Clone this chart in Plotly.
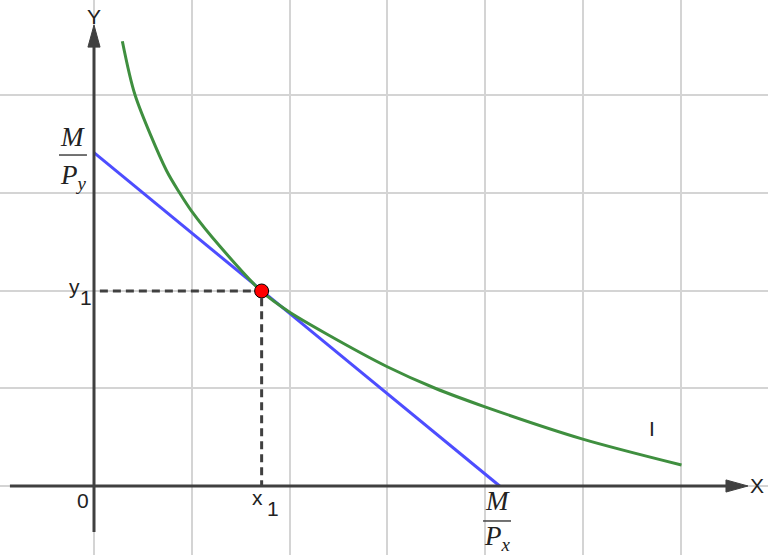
"""
Consumer equilibrium: budget line tangent to an indifference curve.
"""
import plotly.graph_objects as go

# indifference curve I
curve_x = [0.29, 0.42, 0.74, 0.875, 1.0, 1.29, 1.715, 1.99, 2.38, 3.0, 3.49, 4.0, 5.0, 6.01]
curve_y = [4.55, 4.0, 3.23, 3.0, 2.81, 2.45, 1.99, 1.785, 1.555, 1.22, 1.0, 0.81, 0.48, 0.215]

# budget line intercepts
budget_x = [0.0, 4.15]
budget_y = [3.41, 0.0]

# equilibrium point
x1 = 1.715
y1 = 1.995

# axis window (one grid cell = 1 unit)
x_range = [-0.9616, 6.895]
y_range = [-0.706, 4.972]

axis_color = '#404040'
label_font = dict(family='Liberation Sans', size=21, color='#222222')
math_font = dict(family='Liberation Serif', size=27, color='#222222')

fig = go.Figure()

# budget line
fig.add_trace(go.Scatter(
    x=budget_x, y=budget_y, mode='lines',
    line=dict(color='#4d4dff', width=3),
    hoverinfo='skip'
))

# indifference curve
fig.add_trace(go.Scatter(
    x=curve_x, y=curve_y, mode='lines',
    line=dict(color='#3f8f3f', width=3, shape='spline', smoothing=0.8),
    hoverinfo='skip'
))

# dashed guides to the axes
fig.add_trace(go.Scatter(
    x=[0.06, x1, x1], y=[y1, y1, 0],
    mode='lines',
    line=dict(color=axis_color, width=3, dash='8px,5px'),
    hoverinfo='skip'
))

# tangency point
fig.add_trace(go.Scatter(
    x=[x1], y=[y1], mode='markers',
    marker=dict(color='#ff0000', size=14, line=dict(color='#000000', width=1)),
    hoverinfo='skip'
))

shapes = [
    # x axis and arrow
    dict(type='line', x0=-0.86, y0=0, x1=6.5, y1=0,
         line=dict(color=axis_color, width=3)),
    dict(type='path', path='M 6.465 -0.062 L 6.69 0 L 6.465 0.062 Z',
         fillcolor=axis_color, line=dict(color=axis_color, width=1)),
    # y axis and arrow
    dict(type='line', x0=0, y0=-0.47, x1=0, y1=4.52,
         line=dict(color=axis_color, width=3)),
    dict(type='path', path='M -0.062 4.49 L 0 4.716 L 0.062 4.49 Z',
         fillcolor=axis_color, line=dict(color=axis_color, width=1)),
    # fraction bars
    dict(type='line', x0=-0.358, y0=3.386, x1=-0.072, y1=3.386,
         line=dict(color='#444444', width=1.5)),
    dict(type='line', x0=3.98, y0=-0.358, x1=4.266, y1=-0.358,
         line=dict(color='#444444', width=1.5)),
]

annotations = [
    dict(x=0, y=4.80, text='Y'),
    dict(x=6.78, y=0, text='X'),
    dict(x=-0.11, y=-0.15, text='0'),
    dict(x=1.67, y=-0.12, text='x'),
    dict(x=1.83, y=-0.23, text='1'),
    dict(x=-0.2, y=y1 + 0.05, text='y'),
    dict(x=-0.08, y=y1 - 0.07, text='1'),
    dict(x=5.71, y=0.59, text='I'),
    dict(x=-0.215, y=3.57, text='<i>M</i>', font=math_font),
    dict(x=-0.205, y=3.16, text='<i>P</i><sub><i>y</i></sub>', font=math_font),
    dict(x=4.123, y=-0.15, text='<i>M</i>', font=math_font),
    dict(x=4.123, y=-0.53, text='<i>P</i><sub><i>x</i></sub>', font=math_font),
]
for a in annotations:
    a.update(showarrow=False, xref='x', yref='y', xanchor='center', yanchor='middle')
    a.setdefault('font', label_font)

fig.update_layout(
    width=768,
    height=555,
    margin=dict(l=0, r=0, t=0, b=0),
    paper_bgcolor='white',
    plot_bgcolor='white',
    showlegend=False,
    shapes=shapes,
    annotations=annotations,
)
fig.update_xaxes(
    range=x_range, tick0=0, dtick=1, showgrid=True,
    gridcolor='#d4d4d4', gridwidth=1.5, zeroline=False,
    showticklabels=False, ticks='', showline=False, fixedrange=True
)
fig.update_yaxes(
    range=y_range, tick0=0, dtick=1, showgrid=True,
    gridcolor='#d4d4d4', gridwidth=1.5, zeroline=False,
    showticklabels=False, ticks='', showline=False, fixedrange=True
)

fig.write_html(
    "out.html",
    config=dict(displayModeBar=False),
    post_script="document.body.style.margin='0';document.body.style.overflow='hidden';",
)
